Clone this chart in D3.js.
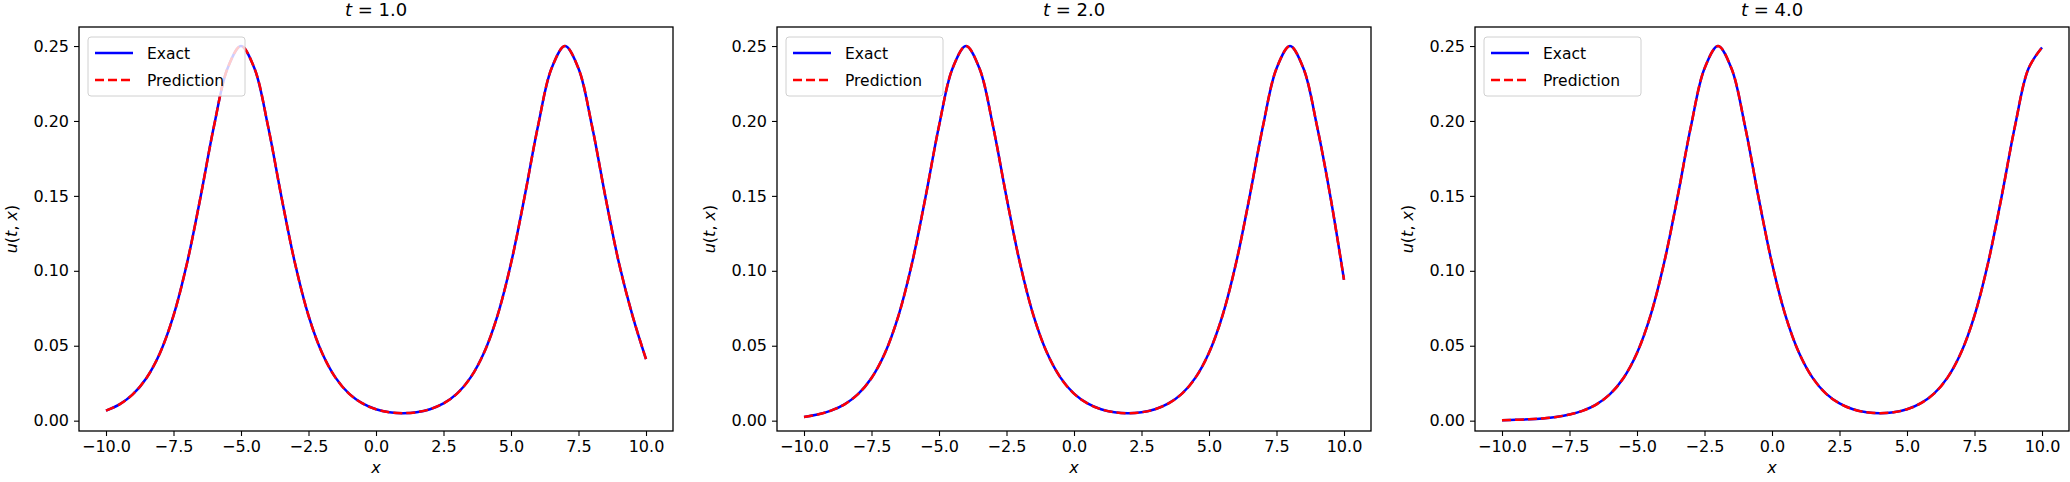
<!DOCTYPE html>
<html>
<head>
<meta charset="utf-8">
<script src="https://cdn.jsdelivr.net/npm/d3@7"></script>
<style>
  body { margin: 0; background: #fff; }
  text { font-family: "DejaVu Sans", sans-serif; }
</style>
</head>
<body>
<svg id="chart" width="2070" height="482"></svg>
<script>
const titles = ["1.0", "2.0", "4.0"];
const xTicks = [-10, -7.5, -5, -2.5, 0, 2.5, 5, 7.5, 10];
const yTicks = [0, 0.05, 0.1, 0.15, 0.2, 0.25];
// x samples from -10 to 10, step 0.5
const xs = d3.range(41).map((i) => -10 + i * 0.5);

const u1 = [0.0067, 0.0109, 0.0177, 0.0285, 0.0452, 0.0701, 0.105, 0.1491, 0.1966, 0.235,
  0.25, 0.235, 0.1966, 0.1491, 0.105, 0.0701, 0.0453, 0.0287, 0.018, 0.0115,
  0.0076, 0.0056, 0.005, 0.0056, 0.0076, 0.0115, 0.018, 0.0287, 0.0453, 0.0701,
  0.105, 0.1491, 0.1966, 0.235, 0.25, 0.235, 0.1966, 0.1491, 0.105, 0.0701, 0.041];
const u2 = [0.0025, 0.0041, 0.0067, 0.0109, 0.0177, 0.0285, 0.0452, 0.0701, 0.105, 0.1491,
  0.1966, 0.235, 0.25, 0.235, 0.1966, 0.1491, 0.105, 0.0701, 0.0453, 0.0287,
  0.018, 0.0115, 0.0076, 0.0056, 0.005, 0.0056, 0.0076, 0.0115, 0.018, 0.0287,
  0.0453, 0.0701, 0.105, 0.1491, 0.1966, 0.235, 0.25, 0.235, 0.1966, 0.1491, 0.094];
const u3 = [0.0003, 0.0006, 0.0009, 0.0015, 0.0025, 0.0041, 0.0067, 0.0109, 0.0177, 0.0285,
  0.0452, 0.0701, 0.105, 0.1491, 0.1966, 0.235, 0.25, 0.235, 0.1966, 0.1491,
  0.105, 0.0701, 0.0453, 0.0287, 0.018, 0.0115, 0.0076, 0.0056, 0.005, 0.0056,
  0.0076, 0.0115, 0.018, 0.0287, 0.0453, 0.0701, 0.105, 0.1491, 0.1966, 0.235, 0.249];
const series = [u1, u2, u3];

const svg = d3.select("#chart");
const lefts = [79, 777, 1475];
const w = 594, plotTop = 27, plotBottom = 431;

lefts.forEach((left, k) => {
  const x = d3.scaleLinear().domain([-11, 11]).range([left, left + w]);
  const y = d3.scaleLinear().domain([-0.0069, 0.2627]).range([plotBottom, plotTop]);
  const g = svg.append("g");

  const xAxis = g.append("g").attr("transform", `translate(0,${plotBottom})`)
    .call(d3.axisBottom(x).tickValues(xTicks).tickSize(5).tickPadding(5)
      .tickFormat((d) => d3.format(".1f")(d).replace("-", "\u2212")));
  const yAxis = g.append("g").attr("transform", `translate(${left},0)`)
    .call(d3.axisLeft(y).tickValues(yTicks).tickSize(5).tickPadding(5)
      .tickFormat(d3.format(".2f")));
  [xAxis, yAxis].forEach((a) => {
    a.select(".domain").remove();
    a.selectAll("line").attr("stroke", "#000").attr("stroke-width", 1.1);
    a.selectAll("text").attr("font-size", 16).attr("fill", "#000");
  });

  g.append("rect").attr("x", left).attr("y", plotTop).attr("width", w).attr("height", plotBottom - plotTop)
    .attr("fill", "none").attr("stroke", "#000").attr("stroke-width", 1.3);

  const data = xs.map((v, i) => [v, series[k][i]]);
  const line = d3.line().x((d) => x(d[0])).y((d) => y(d[1])).curve(d3.curveCatmullRom);
  g.append("path").attr("d", line(data)).attr("fill", "none").attr("stroke", "#0000ff").attr("stroke-width", 2.5);
  g.append("path").attr("d", line(data)).attr("fill", "none").attr("stroke", "#ff0000")
    .attr("stroke-width", 2.5).attr("stroke-dasharray", "9,4");

  // title
  const t = g.append("text").attr("x", left + w / 2).attr("y", 16).attr("text-anchor", "middle").attr("font-size", 18);
  t.append("tspan").attr("font-style", "italic").text("t");
  t.append("tspan").text(` = ${titles[k]}`);

  g.append("text").attr("x", left + w / 2).attr("y", 473).attr("text-anchor", "middle")
    .attr("font-size", 16).attr("font-style", "italic").text("x");
  const yl = g.append("text").attr("transform", `translate(${left - 62},${(plotTop + plotBottom) / 2}) rotate(-90)`)
    .attr("text-anchor", "middle").attr("font-size", 16);
  yl.append("tspan").attr("font-style", "italic").text("u");
  yl.append("tspan").text("(");
  yl.append("tspan").attr("font-style", "italic").text("t");
  yl.append("tspan").text(", ");
  yl.append("tspan").attr("font-style", "italic").text("x");
  yl.append("tspan").text(")");

  // legend
  const lg = g.append("g").attr("transform", `translate(${left + 9},${plotTop + 10})`);
  lg.append("rect").attr("width", 157).attr("height", 59).attr("rx", 3)
    .attr("fill", "#fff").attr("fill-opacity", 0.8).attr("stroke", "#d0d0d0");
  [["Exact", "#0000ff", null], ["Prediction", "#ff0000", "9,4"]].forEach((e, i) => {
    const yy = 16 + i * 27;
    lg.append("line").attr("x1", 7).attr("x2", 45).attr("y1", yy).attr("y2", yy)
      .attr("stroke", e[1]).attr("stroke-width", 2.5).attr("stroke-dasharray", e[2]);
    lg.append("text").attr("x", 59).attr("y", yy + 5.5).attr("font-size", 15.5).text(e[0]);
  });
});
</script>
</body>
</html>
